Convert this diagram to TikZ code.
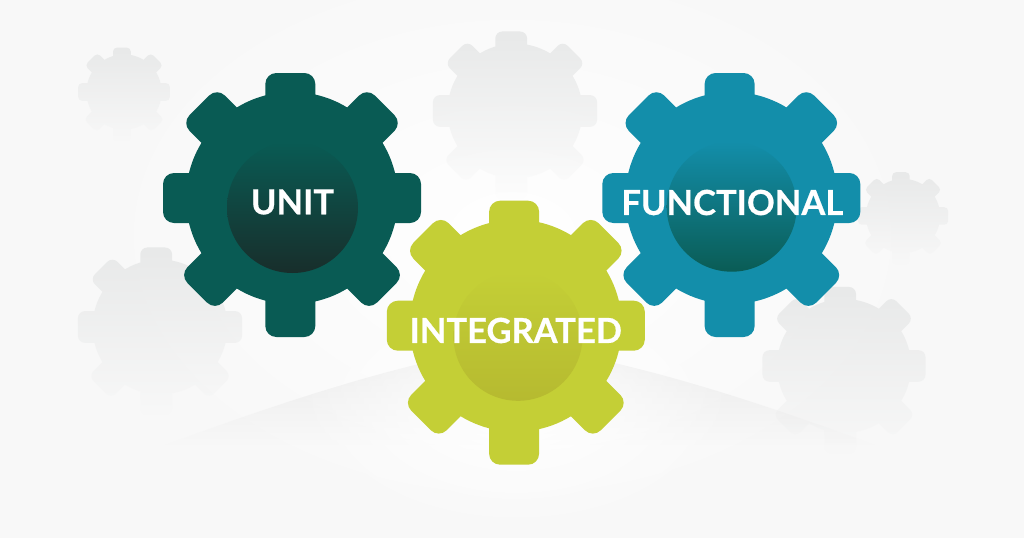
\documentclass[tikz,border=0pt]{standalone}
\usepackage{fontspec}
\setmainfont{Lato}[BoldFeatures={FakeBold=0.6}]
\usetikzlibrary{fadings}
\definecolor{bgc}{HTML}{F8F8F8}
\definecolor{ghost}{HTML}{E8E9E9}
\definecolor{fanc}{HTML}{E9E9E9}
\definecolor{unitc}{HTML}{095B54}
\definecolor{unitd}{HTML}{182E2B}
\definecolor{func}{HTML}{138EAA}
\definecolor{fund}{HTML}{0A5C55}
\definecolor{intc}{HTML}{C4CF36}
\definecolor{intd}{HTML}{B6BA30}
\tikzfading[name=gearfade, top color=transparent!0, bottom color=transparent!100]
\tikzfading[name=glowfade, inner color=transparent!0, outer color=transparent!100]
\tikzset{gearlabel/.style={text=white,font=\fontsize{34.5}{36}\selectfont\bfseries,inner sep=0pt,anchor=center}}
% #1 cx, #2 cy, #3 scale, #4 sideways offset of the top and bottom teeth
\newcommand{\gearshape}[4]{%
  (#1,#2) circle ({106*#3})
  \foreach \ang/\len/\off in {0/139/-#4,45/134/0,90/129/0,135/131/0,180/125/#4,225/131/0,270/129/0,315/134/0}{%
    {[shift={(#1,#2)},rotate=\ang,scale=#3,xshift={\off*1pt},rounded corners={11*#3*1pt}]
     (-25,0) -- (25,0) -- (25,\len) -- (-25,\len) -- cycle}
  }}
\begin{document}
\begin{tikzpicture}[x=1pt,y=-1pt]
\useasboundingbox (0,0) rectangle (1024,538);
\fill[bgc] (0,0) rectangle (1024,538);
% soft glow behind the gears
\fill[white,path fading=glowfade] (512,235) ellipse (440 and 300);
% floor fan
\fill[fanc,path fading=gearfade] (516,345) .. controls (420,358) and (300,395) .. (165,445) -- (875,445) .. controls (740,395) and (620,358) .. (516,345) -- cycle;
\fill[white,path fading=glowfade] (516,405) ellipse (220 and 130);
% ghost gears
\fill[ghost,path fading=gearfade] \gearshape{124}{92}{0.355}{6};
\fill[ghost,path fading=gearfade] \gearshape{515}{111}{0.636}{6};
\fill[ghost,path fading=gearfade] \gearshape{160}{327}{0.636}{6};
\fill[ghost,path fading=gearfade] \gearshape{903}{216}{0.35}{6};
\fill[ghost,path fading=gearfade] \gearshape{844}{366}{0.632}{6};
% main gears
\fill[unitc] \gearshape{292}{198}{1}{1.7};
\fill[func] \gearshape{731.3}{198}{1}{1.7};
\fill[intc] \gearshape{515.8}{325.7}{1}{1.7};
% hubs
\shade[top color=unitc,bottom color=unitd] (292.5,207.5) circle (65.5);
\shade[top color=func,bottom color=fund] (731.7,206.7) circle (65);
\shade[top color=intc,bottom color=intd] (518,336.3) circle (64.5);
% labels
\node[gearlabel] (unit) at (292.5,202) {UNIT};
\node[gearlabel] (functional) at (732.3,202.5) {FUNCTIONAL};
\node[gearlabel] (integrated) at (515.8,330.5) {INTEGRATED};
\end{tikzpicture}
\end{document}
